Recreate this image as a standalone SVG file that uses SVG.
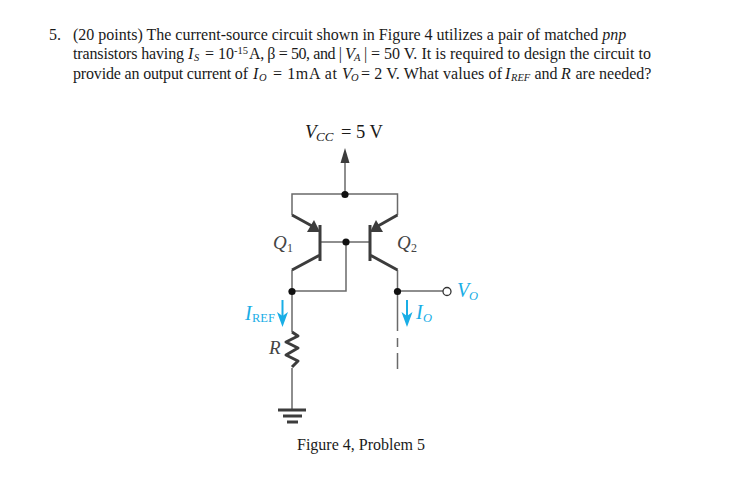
<svg xmlns="http://www.w3.org/2000/svg" width="739" height="477" viewBox="0 0 739 477">
<style>
text{font-family:"Liberation Serif","Times New Roman",serif;fill:#1a1a1a}
.t{font-size:16px}
.i{font-style:italic}
.s{font-size:10.5px;font-style:italic}
.w{fill:none;stroke:#6a6a6a;stroke-width:1.5}
.b{fill:none;stroke:#3c3c3c;stroke-width:3}
.d{fill:#111}
.l{font-style:italic;fill:#444;font-size:19px}
.n{font-size:12px;fill:#444}
.c{fill:#19aee6}
.cl{stroke:#19aee6;stroke-width:2;fill:none}
.u{fill:#19aee6;font-size:20px;font-style:italic}
.us{fill:#19aee6;font-size:12.5px}
</style>
<rect width="739" height="477" fill="#fff"/>
<g id="problem-text">
<text class="t" x="49" y="40">5.</text>
<text class="t" x="73" y="40">(20 points) The current-source circuit shown in Figure 4 utilizes a pair of matched <tspan class="i">pnp</tspan></text>
<text class="t" x="73" y="59" textLength="111">transistors having</text>
<text class="t i" x="188" y="59">I</text><text class="s" x="194" y="61">S</text>
<text class="t" x="205" y="59">= 10</text><text font-size="10.500" x="234" y="54">-15</text>
<text class="t" x="249" y="59" textLength="93">A, β = 50, and |</text>
<text class="t i" x="345" y="59">V</text><text class="s" x="354" y="61">A</text>
<text class="t" x="364" y="59">|</text>
<text class="t" x="371" y="59" textLength="280">= 50 V. It is required to design the circuit to</text>
<text class="t" x="73" y="79" textLength="175">provide an output current of</text>
<text class="t i" x="253" y="79">I</text><text class="s" x="259" y="81">O</text>
<text class="t" x="273" y="79" textLength="64">= 1mA at</text>
<text class="t i" x="342" y="79">V</text><text class="s" x="351" y="81">O</text>
<text class="t" x="361" y="79" textLength="141">= 2 V. What values of</text>
<text class="t i" x="505" y="79">I</text><text class="s" x="511" y="81">REF</text>
<text class="t" x="534.500" y="79">and</text>
<text class="t i" x="561" y="79">R</text>
<text class="t" x="575.500" y="79">are needed?</text>
</g>
<g id="connectors">
<path class="w" d="M345 160V194M292 215V194H397.500V215"/>
<path class="w" d="M320 242H370M346 242V291H292M292 270V332M292 368V409"/>
<path class="w" d="M397.500 270V331M397.500 291H443"/>
<path class="w" d="M397.500 338V347M397.500 353V369"/>
</g>
<g id="vcc">
<polygon points="345,148 340.500,163 349.500,163" fill="#3c3c3c"/>
<text x="305" y="138" font-size="19" font-style="italic" fill="#333">V</text>
<text x="316" y="141" font-size="13" font-style="italic" fill="#333">CC</text>
<text x="341" y="138" font-size="18.500" fill="#333">= 5 V</text>
<circle class="d" cx="345" cy="194.500" r="3.600"/>
</g>
<g id="q1">
<path class="b" d="M320 225V261M320 255L292 270M292 215L312 226"/>
<polygon points="320,232 307,232 314,220" fill="#3c3c3c"/>
<text class="l" x="273" y="249">Q</text><text class="n" x="287" y="252">1</text>
</g>
<g id="q2">
<path class="b" d="M370 225V261M370 255L397.500 270M397.500 215L378 226"/>
<polygon points="370,232 383,232 376,220" fill="#3c3c3c"/>
<text class="l" x="397" y="249">Q</text><text class="n" x="411" y="252">2</text>
</g>
<g id="junctions">
<circle class="d" cx="346" cy="242" r="3.600"/>
<circle class="d" cx="292" cy="291.500" r="3.600"/>
<circle class="d" cx="397.500" cy="291.500" r="3.600"/>
</g>
<g id="vo">
<circle cx="447" cy="291.500" r="4" fill="#fff" stroke="#333" stroke-width="1.300"/>
<text class="u" x="457" y="297">V</text><text class="us" x="469" y="300" font-style="italic">O</text>
</g>
<g id="iref">
<path class="cl" d="M282.500 300V320"/>
<polygon class="c" points="282.500,327 277,312 282.500,316 288,312"/>
<text class="u" x="245" y="320">I</text><text class="us" x="252" y="322">REF</text>
</g>
<g id="io">
<path class="cl" d="M407 300V320"/>
<polygon class="c" points="407,327 401.500,312 407,316 412.500,312"/>
<text class="u" x="416" y="319">I</text><text class="us" x="423" y="322" font-style="italic">O</text>
</g>
<g id="resistor">
<path class="b" d="M292 332L298 336L286 342L298 348L286 355L298 361L292 367" stroke-linejoin="round"/>
<text class="l" x="269" y="354">R</text>
</g>
<g id="ground">
<path class="b" d="M278 410H306M283 416H302M287 422H298"/>
</g>
<g id="caption">
<text class="t" x="297" y="450">Figure 4, Problem 5</text>
</g>
</svg>
